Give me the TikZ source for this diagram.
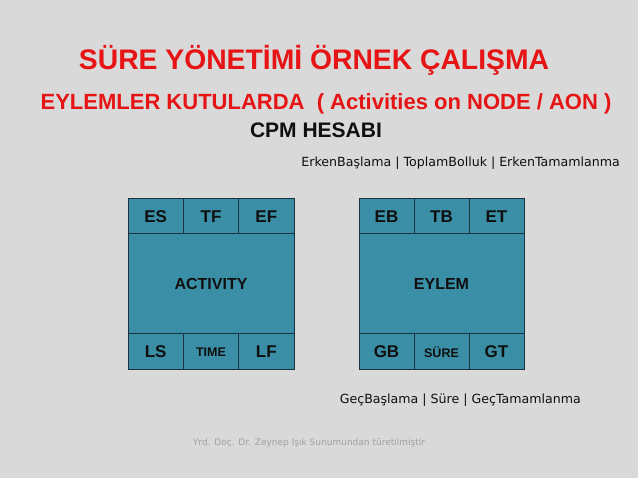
\documentclass[tikz,border=0pt]{standalone}
\usepackage{fontspec}
\setmainfont{Liberation Sans}
\newfontfamily\dejavu{DejaVu Sans}
\definecolor{bgc}{RGB}{217,217,217}
\definecolor{cellc}{RGB}{58,143,166}
\definecolor{edgec}{RGB}{28,50,60}
\definecolor{titlered}{RGB}{230,20,20}
\definecolor{txtc}{RGB}{15,15,15}
\definecolor{footc}{RGB}{160,160,160}
\tikzset{
  cell/.style={draw=edgec, line width=1pt, fill=cellc, inner sep=0pt, text=txtc, font=\bfseries\fontsize{17}{19}\selectfont},
  smallcell/.style={cell, font=\bfseries\fontsize{12.5}{14}\selectfont},
  midcell/.style={cell, font=\bfseries\fontsize{16}{18}\selectfont},
  note/.style={inner sep=0pt, text=txtc, font=\dejavu\fontsize{12.6}{15}\selectfont}
}
\begin{document}
\begin{tikzpicture}[x=1pt,y=-1pt]
\fill[bgc] (0,0) rectangle (638,478);
\useasboundingbox (0,0) rectangle (638,478);
\node[text=titlered, font=\bfseries\fontsize{28.3}{32}\selectfont, inner sep=0pt] (title) at (314,60) {SÜRE YÖNETİMİ ÖRNEK ÇALIŞMA};
\node[text=titlered, font=\bfseries\fontsize{22}{25}\selectfont, inner sep=0pt] (sub) at (326,104) {EYLEMLER KUTULARDA\ \ ( Activities on NODE / AON )};
\node[text=txtc, font=\bfseries\fontsize{21}{24}\selectfont, inner sep=0pt] (cpm) at (316,130) {CPM HESABI};
\node[note, anchor=east] (erken) at (620,163) {ErkenBaşlama | ToplamBolluk | ErkenTamamlanma};
% left box
\node[midcell, minimum width=166, minimum height=100] (act) at (211,284) {ACTIVITY};
\node[cell, minimum width=55.333, minimum height=35] (es) at (155.667,216.5) {ES};
\node[cell, minimum width=55.333, minimum height=35] (tf) at (211,216.5) {TF};
\node[cell, minimum width=55.333, minimum height=35] (ef) at (266.333,216.5) {EF};
\node[cell, minimum width=55.333, minimum height=36] (ls) at (155.667,352) {LS};
\node[smallcell, minimum width=55.333, minimum height=36] (time) at (211,352) {TIME};
\node[cell, minimum width=55.333, minimum height=36] (lf) at (266.333,352) {LF};
% right box
\node[midcell, minimum width=165, minimum height=100] (eylem) at (441.5,284) {EYLEM};
\node[cell, minimum width=55, minimum height=35] (eb) at (386.5,216.5) {EB};
\node[cell, minimum width=55, minimum height=35] (tb) at (441.5,216.5) {TB};
\node[cell, minimum width=55, minimum height=35] (et) at (496.5,216.5) {ET};
\node[cell, minimum width=55, minimum height=36] (gb) at (386.5,352) {GB};
\node[smallcell, minimum width=55, minimum height=36] (sure) at (441.5,352) {SÜRE};
\node[cell, minimum width=55, minimum height=36] (gt) at (496.5,352) {GT};
\node[note, anchor=east] (gec) at (581,400) {GeçBaşlama | Süre | GeçTamamlanma};
\node[inner sep=0pt, text=footc, font=\dejavu\fontsize{9}{11}\selectfont] (foot) at (309,443) {Yrd. Doç. Dr. Zeynep Işık Sunumundan türetilmiştir};
\end{tikzpicture}
\end{document}
